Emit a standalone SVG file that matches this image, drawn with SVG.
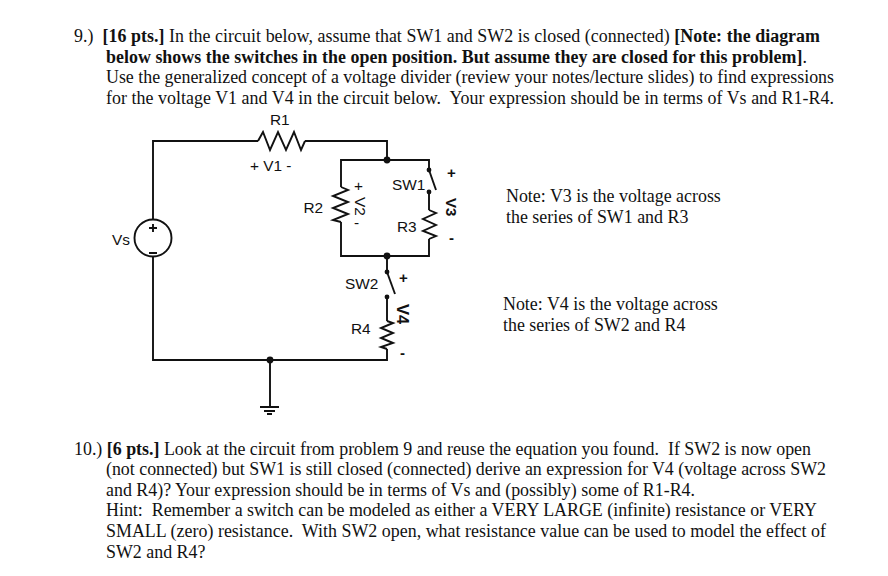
<svg xmlns="http://www.w3.org/2000/svg" width="888" height="576" viewBox="0 0 888 576">
<style>
.t{font-family:"Liberation Serif","Times New Roman",serif;font-size:17.9px;fill:#111;white-space:pre}
.b{font-weight:bold}
.l{font-family:"Liberation Sans",Arial,sans-serif;font-size:15.4px;fill:#111}
.p{font-family:"Liberation Sans",Arial,sans-serif;font-size:15px;font-weight:bold;fill:#111}
.w{fill:none;stroke:#111;stroke-width:1.9;stroke-linejoin:miter}
.d{fill:#111}
</style>
<rect width="888" height="576" fill="#fff"/>
<g id="text-q9">
<text class="t" x="74" y="41.5" textLength="746">9.)  <tspan class="b">[16 pts.]</tspan> In the circuit below, assume that SW1 and SW2 is closed (connected) <tspan class="b">[Note: the diagram</tspan></text>
<text class="t b" x="106" y="62.5" textLength="701">below shows the switches in the open position. But assume they are closed for this problem]<tspan font-weight="normal">.</tspan></text>
<text class="t" x="106" y="82.5" textLength="728">Use the generalized concept of a voltage divider (review your notes/lecture slides) to find expressions</text>
<text class="t" x="106" y="103.5" textLength="728">for the voltage V1 and V4 in the circuit below.  Your expression should be in terms of Vs and R1-R4.</text>
</g>
<g id="connectors">
<path class="w" d="M153 220V141H258M305 141H387V160M341 187V160H429V170M429 192V210M429 239V256H341V222M387 256V272M387 297V321M387 349V360H153V256M270 360V407"/>
</g>
<g id="Vs"><circle class="w" cx="153" cy="238" r="18.5"/><path class="w" d="M153 224V232M149 228H157M149 253H157"/><text class="l" x="112" y="244.5">Vs</text></g>
<g id="R1"><path class="w" d="M258 141L263 132L270 150L278 132L286 150L294 132L301 150L305 141"/><text class="l" x="270" y="125">R1</text><text class="l" x="250" y="171">+ V1 -</text></g>
<g id="R2"><path class="w" d="M341 187L348 190L333 196L348 202L333 208L348 214L333 220L341 222"/><text class="l" x="303.5" y="213">R2</text></g>
<g id="V2"><text class="l" x="354" y="191">+</text><text class="l" transform="translate(355,197) rotate(90)">V2</text><text class="l" x="354" y="228">-</text></g>
<g id="SW1"><circle class="d" cx="429" cy="170" r="2.4"/><circle class="d" cx="429" cy="192" r="2.4"/><path class="w" d="M429 170L436 190"/><text class="l" x="392" y="190">SW1</text></g>
<g id="R3"><path class="w" d="M429 210L436 213L423 219L436 225L423 231L436 236L429 239"/><text class="l" x="397" y="232">R3</text></g>
<g id="V3"><text class="p" x="447" y="178">+</text><text class="p" transform="translate(446,198) rotate(90)">V3</text><text class="p" x="449" y="243">-</text></g>
<g id="SW2"><circle class="d" cx="387" cy="272" r="2.4"/><circle class="d" cx="387" cy="297" r="2.4"/><path class="w" d="M387 272L395 294"/><text class="l" x="345" y="289">SW2</text></g>
<g id="R4"><path class="w" d="M387 321L393 323L381 328L393 333L381 338L393 343L381 347L387 349"/><text class="l" x="351" y="334">R4</text></g>
<g id="V4"><text class="p" x="399" y="283">+</text><text class="p" style="font-size:16.5px" transform="translate(397,304) rotate(90)">V4</text><text class="p" x="400" y="358">-</text></g>
<g id="junctions"><circle class="d" cx="387" cy="160" r="3.4"/><circle class="d" cx="387" cy="256" r="3.4"/><circle class="d" cx="270" cy="360" r="3.4"/></g>
<g id="ground"><path class="w" d="M260 407H279M264 411H275M267 414H272"/></g>
<g id="notes">
<text class="t" x="506" y="201.5">Note: V3 is the voltage across</text>
<text class="t" x="506" y="222.5">the series of SW1 and R3</text>
<text class="t" x="503" y="309.5">Note: V4 is the voltage across</text>
<text class="t" x="503" y="330.5">the series of SW2 and R4</text>
</g>
<g id="text-q10">
<text class="t" x="74" y="454.5" textLength="737">10.) <tspan class="b">[6 pts.]</tspan> Look at the circuit from problem 9 and reuse the equation you found.  If SW2 is now open</text>
<text class="t" x="106" y="474.5" textLength="720">(not connected) but SW1 is still closed (connected) derive an expression for V4 (voltage across SW2</text>
<text class="t" x="106" y="495.5">and R4)? Your expression should be in terms of Vs and (possibly) some of R1-R4.</text>
<text class="t" x="106" y="515.5" textLength="711">Hint:  Remember a switch can be modeled as either a VERY LARGE (infinite) resistance or VERY</text>
<text class="t" x="106" y="536.5" textLength="720">SMALL (zero) resistance.  With SW2 open, what resistance value can be used to model the effect of</text>
<text class="t" x="106" y="557.5">SW2 and R4?</text>
</g>
</svg>
